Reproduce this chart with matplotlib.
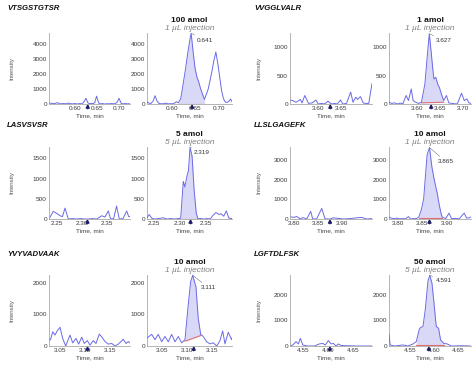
import matplotlib
matplotlib.use("Agg")
import matplotlib.pyplot as plt
import numpy as np

plt.rcParams['font.family'] = ['Liberation Sans', 'DejaVu Sans']

# ---------------- data ----------------
peptides = ["VTSGSTGTSR", "VVGGLVALR", "LASVSVSR", "LLSLGAGEFK", "YVYVADVAAK", "LGFTDLFSK"]
amounts = ["100 amol", "1 amol", "5 amol", "10 amol", "10 amol", "50 amol"]
injections = ["1 \u00b5L injection", "1 \u00b5L injection", "5 \u00b5L injection",
              "1 \u00b5L injection", "1 \u00b5L injection", "5 \u00b5L injection"]
apex_labels = ["0.641", "3.627", "2.319", "3.865", "3.111", "4.591"]

# VTSGSTGTSR
a_blank_t = [0.541, 0.546, 0.550, 0.555, 0.560, 0.564, 0.569, 0.574, 0.579, 0.585, 0.590, 0.595, 0.600,
             0.605, 0.611, 0.616, 0.620, 0.625, 0.629, 0.633, 0.637, 0.641, 0.645, 0.649, 0.654, 0.658,
             0.663, 0.668, 0.673, 0.678, 0.683, 0.688, 0.692, 0.696, 0.700, 0.705, 0.709, 0.714, 0.719, 0.725]
a_blank_i = [20, 60, 20, 40, 90, 30, 10, 30, 10, 60, 20, 10, 30,
             0, 30, 10, 130, 380, 90, 10, 40, 20, 90, 520, 60, 10,
             30, 0, 20, 10, 30, 10, 40, 120, 380, 40, 10, 30, 10, 20]
a_samp_t = [0.548, 0.552, 0.556, 0.561, 0.565, 0.569, 0.573, 0.578, 0.583, 0.588, 0.592, 0.597, 0.602,
            0.606, 0.610, 0.614, 0.619, 0.624, 0.629, 0.634, 0.638, 0.641, 0.645, 0.649, 0.653, 0.657,
            0.661, 0.665, 0.669, 0.673, 0.677, 0.681, 0.685, 0.689, 0.693, 0.697, 0.701, 0.705, 0.709,
            0.713, 0.717, 0.721, 0.724, 0.727]
a_samp_i = [150, 60, 30, 200, 550, 200, 40, 10, 20, 60, 10, 20, 10,
            60, 150, 80, 350, 1300, 2300, 3400, 4200, 4680, 3500, 2400, 1800, 1450,
            1000, 650, 300, 650, 1000, 1600, 2200, 2900, 3440, 2700, 1800, 900, 350,
            120, 110, 200, 330, 150]

# VVGGLVALR
b_blank_t = [3.540, 3.546, 3.553, 3.562, 3.566, 3.572, 3.580, 3.588, 3.596, 3.601, 3.608, 3.615, 3.622,
             3.629, 3.636, 3.642, 3.649, 3.654, 3.662, 3.671, 3.676, 3.682, 3.686, 3.692, 3.698, 3.703,
             3.710, 3.717]
b_blank_i = [70, 60, 30, 80, 20, 150, 10, 20, 70, 0, 10, 0, 50,
             0, 10, 0, 70, 0, 10, 210, 30, 120, 80, 130, 20, 10,
             10, 360]
b_samp_t = [3.540, 3.546, 3.552, 3.558, 3.564, 3.570, 3.577, 3.582, 3.588, 3.592, 3.598, 3.604, 3.610,
            3.6175, 3.623, 3.627, 3.6307, 3.6345, 3.637, 3.641, 3.645, 3.649, 3.653, 3.658, 3.664, 3.669,
            3.676, 3.6875, 3.6965, 3.7025, 3.708, 3.7125, 3.717]
b_samp_i = [30, 10, 20, 0, 15, 5, 150, 60, 265, 60, 30, 10, 30,
            353, 883, 1237, 942, 618, 440, 470, 353, 285, 180, 60, 150, 20,
            10, 0, 190, 60, 90, 20, 10]

# LASVSVSR
c_blank_t = [2.2332, 2.2419, 2.2500, 2.2555, 2.2605, 2.2656, 2.2723, 2.2800, 2.2890, 2.2970, 2.3050,
             2.3130, 2.3210, 2.3298, 2.3399, 2.3466, 2.3532, 2.3580, 2.3640, 2.3700, 2.3755, 2.3830,
             2.3905, 2.3945, 2.3972]
c_blank_i = [0, 187, 130, 80, 60, 270, 0, 10, 0, 10, 0,
             0, 10, 0, 80, 50, 200, 0, 10, 320, 0, 10,
             200, 60, 60]
c_samp_t = [2.236, 2.2404, 2.245, 2.251, 2.2578, 2.2675, 2.274, 2.282, 2.290, 2.296, 2.301, 2.306,
            2.309, 2.313, 2.316, 2.319, 2.323, 2.327, 2.331, 2.334, 2.340, 2.346, 2.352, 2.358,
            2.3626, 2.369, 2.375, 2.379, 2.384, 2.389, 2.394, 2.400]
c_samp_i = [30, 110, 20, 0, 10, 30, 0, 10, 0, 10, 20, 930,
            790, 1060, 1200, 1770, 1550, 700, 150, 10, 10, 0, 10, 0,
            80, 160, 110, 130, 70, 200, 20, 10]

# LLSLGAGEFK
d_blank_t = [3.7927, 3.7996, 3.8067, 3.8135, 3.8204, 3.8275, 3.8358, 3.8400, 3.8483, 3.8588, 3.8656,
             3.8760, 3.8829, 3.8933, 3.9038, 3.9177, 3.9317, 3.9421, 3.9525, 3.9635]
d_blank_i = [125, 80, 125, 10, 70, 0, 390, 0, 10, 540, 10,
             0, 60, 30, 0, 20, 60, 80, 0, 20]
d_samp_t = [3.782, 3.785, 3.791, 3.798, 3.804, 3.810, 3.816, 3.822, 3.826, 3.832, 3.838, 3.843,
            3.848, 3.853, 3.860, 3.865, 3.870, 3.874, 3.877, 3.881, 3.884, 3.888, 3.891, 3.898,
            3.905, 3.910, 3.917, 3.926, 3.936, 3.941, 3.946, 3.950]
d_samp_i = [100, 60, 20, 40, 10, 20, 10, 125, 0, 20, 20, 100,
            450, 1020, 3270, 3650, 2640, 2100, 1740, 1300, 850, 350, 100, 20,
            300, 20, 30, 10, 300, 50, 60, 100]

# YVYVADVAAK
e_blank_t = [3.028, 3.031, 3.0354, 3.040, 3.0446, 3.050, 3.0554, 3.0614, 3.070, 3.0754, 3.082, 3.0874,
             3.0934, 3.0986, 3.1046, 3.110, 3.1166, 3.122, 3.1286, 3.1334, 3.140, 3.1466, 3.1534,
             3.160, 3.1666, 3.1766, 3.182, 3.1866, 3.190]
e_blank_i = [240, 190, 450, 345, 480, 590, 240, 0, 345, 100, 240, 60,
             280, 80, 170, 30, 170, 80, 376, 290, 140, 60, 80,
             0, 60, 210, 80, 140, 100]
e_samp_t = [3.019, 3.0284, 3.035, 3.0416, 3.0485, 3.0551, 3.0618, 3.0686, 3.0753, 3.082, 3.0887,
            3.0954, 3.102, 3.1068, 3.111, 3.1175, 3.1221, 3.127, 3.1322, 3.139, 3.1457, 3.1523,
            3.1592, 3.1658, 3.1712, 3.1759, 3.1825, 3.1892, 3.190]
e_samp_i = [250, 367, 200, 367, 133, 300, 133, 367, 133, 300, 100,
            200, 1310, 2030, 2230, 1865, 866, 367, 300, 133, 67, 100,
            0, 167, 477, 67, 433, 200, 250]

# LGFTDLFSK
f_blank_t = [4.524, 4.5295, 4.536, 4.5406, 4.5446, 4.5493, 4.5592, 4.5723, 4.5822, 4.5889, 4.594,
             4.600, 4.6053, 4.6099, 4.6152, 4.6198, 4.6251, 4.6384, 4.6582, 4.6865]
f_blank_i = [0, 40, 170, 80, 300, 40, 0, 0, 80, 100, 40,
             210, 80, 100, 0, 80, 20, 10, 0, 0]
f_samp_t = [4.505, 4.5075, 4.5167, 4.5345, 4.545, 4.5556, 4.5625, 4.5695, 4.5767, 4.5815, 4.5872,
            4.591, 4.5956, 4.5999, 4.6047, 4.6096, 4.6138, 4.621, 4.6279, 4.6364, 4.6575, 4.678]
f_samp_i = [450, 40, 0, 40, 0, 80, 170, 690, 760, 1410, 2520,
            2750, 2450, 1670, 760, 690, 235, 100, 80, 0, 10, 0]

blank_t = [a_blank_t, b_blank_t, c_blank_t, d_blank_t, e_blank_t, f_blank_t]
blank_i = [a_blank_i, b_blank_i, c_blank_i, d_blank_i, e_blank_i, f_blank_i]
samp_t = [a_samp_t, b_samp_t, c_samp_t, d_samp_t, e_samp_t, f_samp_t]
samp_i = [a_samp_i, b_samp_i, c_samp_i, d_samp_i, e_samp_i, f_samp_i]

# integration windows (start, end) and baseline levels
peak_start = [0.614, 3.610, 2.301, 3.843, 3.0954, 4.5625]
peak_end = [0.669, 3.658, 2.334, 3.891, 3.127, 4.621]
base_start = [20, 20, 10, 30, 150, 30]
base_end = [20, 30, 10, 30, 330, 30]

# expected retention time markers
blank_marker = [0.629, 3.627, 2.311, 3.876, 3.105, 4.603]
samp_marker = [0.643, 3.631, 2.320, 3.865, 3.113, 4.589]

# axis settings
blank_xlim = [(0.541, 0.725), (3.540, 3.717), (2.2332, 2.3972), (3.7927, 3.9635), (3.028, 3.190), (4.524, 4.6865)]
samp_xlim = [(0.548, 0.727), (3.540, 3.717), (2.236, 2.400), (3.782, 3.950), (3.019, 3.190), (4.505, 4.678)]
blank_xticks = [[0.60, 0.65, 0.70], [3.60, 3.65], [2.25, 2.30, 2.35], [3.80, 3.85, 3.90], [3.05, 3.10, 3.15], [4.55, 4.60, 4.65]]
samp_xticks = [[0.60, 0.65, 0.70], [3.60, 3.65, 3.70], [2.25, 2.30, 2.35], [3.80, 3.85, 3.90], [3.05, 3.10, 3.15], [4.55, 4.60, 4.65]]
ymax = [4700, 1250, 1780, 3680, 2240, 2760]
yticks = [[0, 1000, 2000, 3000, 4000], [0, 500, 1000], [0, 500, 1000, 1500],
          [0, 1000, 2000, 3000], [0, 1000, 2000], [0, 1000, 2000]]
label_offset = [(4, -5), (5, -5), (3, -4), (6, -10), (6, -9), (4, -4)]

# ---------------- layout (pixels) ----------------
W, H = 474, 366
cols = [(49, 130), (147, 232), (290, 372), (389, 471)]
rows = [(33, 104), (147, 219), (275, 346)]

LINE = '#6a6ae6'
FILL = '#d9d9f7'
RED = '#e07070'
NAVY = '#1d1d66'
SPINE = '#a8a8a8'

fig = plt.figure(figsize=(W / 100, H / 100), dpi=100)


def add_ax(col, row):
    l, r = cols[col]
    t, b = rows[row]
    ax = fig.add_axes([l / W, 1 - b / H, (r - l) / W, (b - t) / H])
    for s in ['top', 'right']:
        ax.spines[s].set_visible(False)
    for s in ['left', 'bottom']:
        ax.spines[s].set_color(SPINE)
        ax.spines[s].set_linewidth(0.6)
    ax.tick_params(axis='both', length=0, pad=1.5, labelsize=4.6, colors='#3a3a3a')
    ax.set_xlabel('Time, min', fontsize=4.6, color='#444444', labelpad=1.5)
    return ax


def marker(ax, t):
    ax.annotate('', xy=(t, 0), xycoords=('data', 'axes fraction'),
                xytext=(0, -3.4), textcoords='offset points',
                arrowprops=dict(arrowstyle='-|>,head_length=0.18,head_width=0.1',
                                color=NAVY, lw=1.1, shrinkA=0, shrinkB=0))


def fmt(v):
    return f"{v:.2f}"


for k in range(6):
    row = k // 2
    pc = (k % 2) * 2
    # blank panel
    ax0 = add_ax(pc, row)
    ax0.plot(blank_t[k], blank_i[k], color=LINE, lw=0.7)
    ax0.set_xlim(*blank_xlim[k])
    ax0.set_ylim(0, ymax[k])
    ax0.set_xticks(blank_xticks[k])
    ax0.set_xticklabels([fmt(v) for v in blank_xticks[k]])
    ax0.set_yticks(yticks[k])
    marker(ax0, blank_marker[k])

    # sample panel
    ax1 = add_ax(pc + 1, row)
    tt = np.array(samp_t[k])
    ii = np.array(samp_i[k])
    m = (tt >= peak_start[k] - 1e-9) & (tt <= peak_end[k] + 1e-9)
    base = np.interp(tt[m], [peak_start[k], peak_end[k]], [base_start[k], base_end[k]])
    ax1.fill_between(tt[m], base, ii[m], color=FILL, lw=0, zorder=1)
    ax1.plot([peak_start[k], peak_end[k]], [base_start[k], base_end[k]], color=RED, lw=0.8, zorder=2)
    ax1.plot(tt, ii, color=LINE, lw=0.7, zorder=3)
    ax1.set_xlim(*samp_xlim[k])
    ax1.set_ylim(0, ymax[k])
    ax1.set_xticks(samp_xticks[k])
    ax1.set_xticklabels([fmt(v) for v in samp_xticks[k]])
    ax1.set_yticks(yticks[k])
    marker(ax1, samp_marker[k])
    ia = int(np.argmax(ii))
    ax1.annotate(apex_labels[k], xy=(tt[ia], ii[ia]), xytext=label_offset[k],
                 textcoords='offset points', fontsize=4.6, color='#333333',
                 ha='left', va='center',
                 arrowprops=dict(arrowstyle='-', color='#777777', lw=0.4,
                                 shrinkA=0, shrinkB=0))

    # texts
    lx = 7 if pc == 0 else 254
    ly = [9, 125, 255][row]
    fig.text(lx / W, 1 - ly / H, peptides[k], fontsize=5.6, fontweight='bold',
             style='italic', ha='left', va='center', color='#111111')
    cx = (cols[pc + 1][0] + cols[pc + 1][1]) / 2
    ty = rows[row][0]
    fig.text(cx / W, 1 - (ty - 12.5) / H, amounts[k], fontsize=6.0, fontweight='bold',
             ha='center', va='center', color='#111111')
    fig.text(cx / W, 1 - (ty - 4.5) / H, injections[k], fontsize=6.0, style='italic',
             ha='center', va='center', color='#808080')
    iy = (rows[row][0] + rows[row][1]) / 2
    ix = 11.5 if pc == 0 else 258.5
    fig.text(ix / W, 1 - iy / H, 'Intensity', fontsize=4.4, rotation=90,
             ha='center', va='center', color='#555555')

fig.savefig('out.png', dpi=100)
